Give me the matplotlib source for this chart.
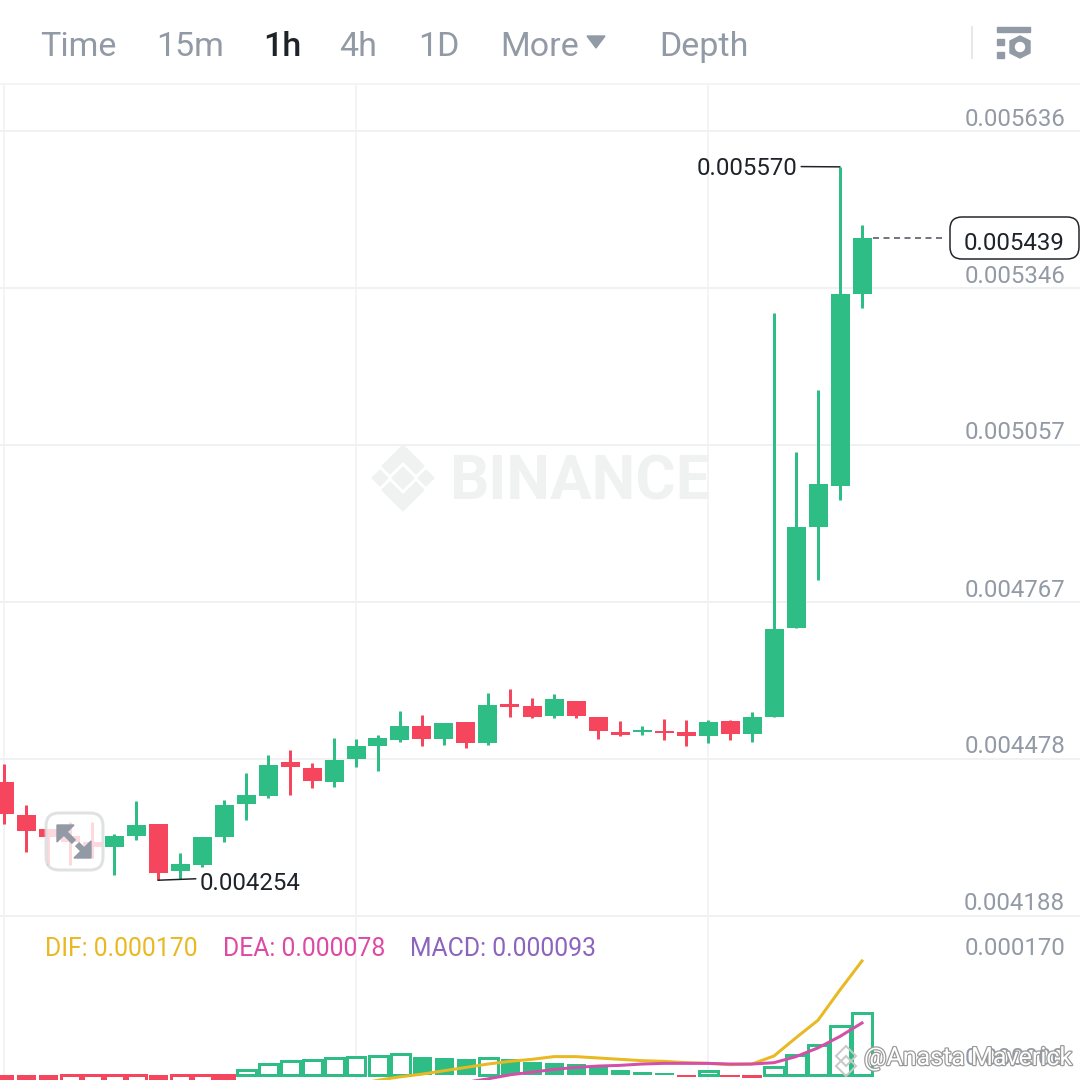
import matplotlib
matplotlib.use("Agg")
import matplotlib.pyplot as plt
import matplotlib.patheffects as pe
from matplotlib.patches import FancyBboxPatch, Polygon, Rectangle, Circle
import numpy as np

plt.rcParams["font.family"] = ["Roboto", "DejaVu Sans"]

nan = float("nan")

# prices in millionths
opens = [4436, 4374, 4348, 4336, 4325, 4315, 4336, 4358, 4271, 4282, 4334, 4395, 4409, 4472, 4461, 4435, 4478, 4502,
         4513, 4538, 4514, 4546, 4507, 4579, 4575, 4557, 4585, 4555, 4527, 4527, 4529, 4527, 4520, 4548, 4524,
         4555, 4719, 4906, 4981, 5335]
highs = [4468, 4393, 4348, 4361, 4361, 4339, 4400, 4358, 4304, 4334, 4402, 4452, 4485, 4494, 4470, 4516, 4514, 4522,
         4566, 4559, 4544, 4546, 4599, 4607, 4590, 4598, 4585, 4555, 4548, 4538, 4551, 4550, 4550, 4550, 4564,
         5300, 5044, 5158, 5570, 5463]
lows = [4358, 4306, 4282, 4282, 4295, 4264, 4328, 4254, 4256, 4278, 4325, 4365, 4406, 4411, 4424, 4426, 4463, 4455,
        4509, 4502, 4503, 4498, 4503, 4555, 4553, 4553, 4553, 4514, 4520, 4522, 4513, 4502, 4507, 4513, 4509,
        4555, 4719, 4808, 4955, 5310]
closes = [4377, 4345, 4334, 4325, 4315, 4336, 4356, 4267, 4284, 4334, 4393, 4411, 4467, 4463, 4437, 4476, 4502, 4516,
          4538, 4514, 4544, 4507, 4577, 4574, 4555, 4588, 4557, 4529, 4522, 4531, 4526, 4520, 4546, 4524, 4555,
          4717, 4906, 4985, 5335, 5439]

price_ticks = [0.005636, 0.005346, 0.005057, 0.004767, 0.004478, 0.004188]
price_grid_x = [0, 16, 32]

# MACD values in millionths
macd_bars = [-12, -13, -13, -12, -11, -10, -9, -10, -9, -8, -3, 8, 17, 22, 23, 26, 27, 29, 32, 27, 26, 24, 26, 24, 20,
             19, 17, 12, 8, 5, 4, -2, 6, -2, -4, 13, 30, 45, 73, 93]
dif_line = [nan] * 16 + [-14, -7, -2, 2, 7, 12, 17, 21, 24, 28, 28, 26, 24, 22, 21, 19, 18, 16, 17, 29, 56, 82, 127, 170]
dea_line = [nan] * 21 + [-10, -5, 1, 5, 9, 12, 14, 15, 17, 18, 18, 18, 17, 17, 19, 28, 41, 58, 78]
macd_ticks = [170, 7]
macd_tick_labels = ["0.000170", "0.000000"]

tabs = ["Time", "15m", "1h", "4h", "1D", "More", "Depth"]
tab_x = [40, 156, 263, 339, 418, 500, 659]

GREEN = "#2ebd85"
RED = "#f6465d"
GRID = "#eff1f3"
GRAY = "#929aa5"
DARK = "#1e2329"


def px(v):
    return v * 0.72


fig = plt.figure(figsize=(10.8, 10.8), dpi=100, facecolor="white")

# pixel box helper: top and bottom in screenshot pixels
def make_axes(top, bottom):
    return fig.add_axes([0, 1 - bottom / 1080, 1, (bottom - top) / 1080])


ax = make_axes(85, 916)
ax_macd = make_axes(916, 1080)
for a in (ax, ax_macd):
    a.set_xlim(-4 / 22, 1076 / 22)
    a.axis("off")
    for g in price_grid_x:
        a.axvline(g, color=GRID, lw=px(1.5), zorder=0)

ax.set_ylim(0.004188, 0.005721)
ax_macd.set_ylim(-6.7, 236.7)

# price panel
x = np.arange(len(opens))
o = np.array(opens) / 1e6
h = np.array(highs) / 1e6
l = np.array(lows) / 1e6
c = np.array(closes) / 1e6
colors = [GREEN if cl >= op else RED for op, cl in zip(o, c)]

for t in price_ticks:
    ax.axhline(t, color=GRID, lw=px(2), zorder=0, clip_on=False)
    ax.annotate(f"{t:.6f}", xy=(1, t), xycoords=("axes fraction", "data"), xytext=(-15, 12),
                textcoords="offset pixels", ha="right", va="center", fontsize=17.3, color=GRAY)

ax.vlines(x, l, h, colors=colors, lw=px(3), zorder=3)
ax.bar(x, np.abs(c - o), bottom=np.minimum(o, c), width=19 / 22, color=colors, zorder=4)

ax.annotate(f"{max(highs) / 1e6:.6f}", xy=(x[np.argmax(highs)], max(highs) / 1e6), xytext=(-43, -2),
            textcoords="offset pixels", ha="right", va="center", fontsize=17.3, color=DARK,
            arrowprops=dict(arrowstyle="-", color=DARK, lw=px(1.5), shrinkA=1, shrinkB=0, relpos=(1, 0.6)), zorder=5)
ax.annotate(f"{min(lows) / 1e6:.6f}", xy=(x[np.argmin(lows)], min(lows) / 1e6), xytext=(42, -3),
            textcoords="offset pixels", ha="left", va="center", fontsize=17.3, color=DARK,
            arrowprops=dict(arrowstyle="-", color=DARK, lw=px(1.5), shrinkA=1, shrinkB=0, relpos=(0, 0.7)), zorder=5)

# last price dashed line
ax.plot([x[-1] + 0.5, 945 / 22 - 4 / 22], [c[-1], c[-1]], color="#474d57", lw=px(1.5), ls=(0, (4, 3)), zorder=5)

# macd panel
for xi, v in zip(x, macd_bars):
    col = GREEN if v >= 0 else RED
    prev = macd_bars[xi - 1] if xi > 0 else v
    if v > prev:
        ax_macd.bar(xi, v, width=19 / 22, facecolor="white", edgecolor=col, lw=px(3), zorder=2)
    else:
        ax_macd.bar(xi, v, width=19 / 22, color=col, zorder=2)
ax_macd.plot(x, dif_line, color="#e8b923", lw=px(3), zorder=3)
ax_macd.plot(x, dea_line, color="#d44fa8", lw=px(3), zorder=4)

for t, lab in zip(macd_ticks, macd_tick_labels):
    ax_macd.annotate(lab, xy=(1, t), xycoords=("axes fraction", "data"), xytext=(-15, 12),
                     textcoords="offset pixels", ha="right", va="center", fontsize=17.3, color=GRAY,
                     annotation_clip=False, zorder=6)

# screen furniture drawn in screenshot pixels on top of the chart
ui = fig.add_axes([0, 0, 1, 1], facecolor="none")
ui.set_xlim(0, 1080)
ui.set_ylim(1080, 0)
ui.axis("off")

for name, tx in zip(tabs, tab_x):
    ui.text(tx, 47, name, fontsize=24.5, va="center", ha="left", color=DARK if name == "1h" else GRAY,
            weight="medium" if name == "1h" else "normal")
ui.add_patch(Polygon([(587, 36), (605, 36), (596, 48)], color=GRAY))
ui.plot([0, 1080], [84, 84], color="#f3f4f5", lw=px(2))
ui.plot([972, 972], [27, 58], color="#e6e8ea", lw=px(2))

# settings icon
ui.add_patch(Rectangle((997, 27), 33, 5, color=GRAY))
ui.add_patch(Rectangle((997, 39), 7, 6, color=GRAY))
ui.add_patch(Rectangle((997, 52), 7, 6, color=GRAY))
ui.add_patch(Polygon([(1020, 36), (1030, 41), (1030, 53), (1020, 58), (1010, 53), (1010, 41)], color=GRAY))
ui.add_patch(Circle((1020, 47), 4.5, color="white"))

# binance watermark
WM = "#f0f2f1"
ui.add_patch(Polygon([(403, 467), (414, 478), (403, 489), (392, 478)], color=WM))
ui.add_patch(Polygon([(380, 470), (388, 478), (380, 486), (372, 478)], color=WM))
ui.add_patch(Polygon([(426, 470), (434, 478), (426, 486), (418, 478)], color=WM))
ui.add_patch(Polygon([(403, 445), (424, 466), (416, 474), (403, 461), (390, 474), (382, 466)], color=WM))
ui.add_patch(Polygon([(403, 511), (424, 490), (416, 482), (403, 495), (390, 482), (382, 490)], color=WM))
ui.text(449, 483, "BINANCE", fontsize=44.5, weight="bold", color=WM, va="center", ha="left")

# expand button
ui.add_patch(FancyBboxPatch((46, 813), 57, 57, boxstyle="round,pad=0,rounding_size=13", facecolor="white",
                            alpha=0.8, edgecolor="#d8dadc", lw=px(3), zorder=5))
ui.add_patch(Polygon([(57, 825), (74, 825), (57, 842)], color=GRAY, zorder=6))
ui.plot([62, 74], [830, 842], color=GRAY, lw=px(6), zorder=6, solid_capstyle="butt")
ui.add_patch(Polygon([(91, 858), (74, 858), (91, 841)], color=GRAY, zorder=6))
ui.plot([86, 77], [853, 844], color=GRAY, lw=px(6), zorder=6, solid_capstyle="butt")

# current price box
ui.add_patch(FancyBboxPatch((950, 217), 129, 42, boxstyle="round,pad=0,rounding_size=12", facecolor="white",
                            edgecolor=DARK, lw=px(1.5), zorder=5))
ui.text(1014, 243, f"{closes[-1] / 1e6:.6f}", fontsize=17.3, color=DARK, ha="center", va="center", zorder=6)

# macd legend
ui.text(45, 949, f"DIF: {dif_line[-1] / 1e6:.6f}", fontsize=17.8, color="#e8b923", va="center")
ui.text(223, 949, f"DEA: {dea_line[-1] / 1e6:.6f}", fontsize=17.8, color="#dd4aa5", va="center")
ui.text(410, 949, f"MACD: {macd_bars[-1] / 1e6:.6f}", fontsize=17.8, color="#8d64bd", va="center")

# reposted-by watermark
halo = [pe.withStroke(linewidth=px(2.5), foreground="#9a9a9a")]
ui.text(864, 1058, "@Anasta Maverick", fontsize=18, color="white", va="center", path_effects=halo, zorder=8)
for pts in ([(846, 1046), (856, 1056), (846, 1066), (836, 1056)], [(846, 1056), (856, 1066), (846, 1076), (836, 1066)]):
    ui.add_patch(Polygon(pts, fill=False, edgecolor="#c8c8c8", lw=px(2), zorder=8))

fig.savefig("out.png", dpi=100)
